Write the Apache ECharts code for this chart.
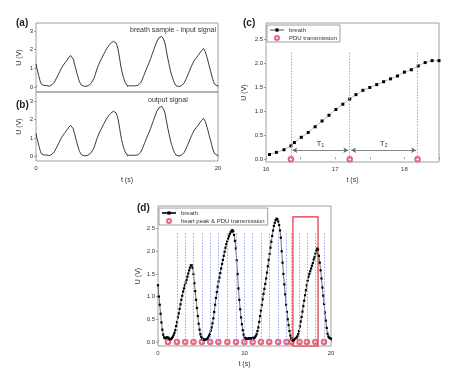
<!DOCTYPE html>
<html><head><meta charset="utf-8">
<script src="https://cdn.jsdelivr.net/npm/echarts@6/dist/echarts.min.js"></script>
<style>html,body{margin:0;padding:0;background:#fff}#c{width:474px;height:378px}</style>
</head><body><div id="c"></div>
<script>
// breath signal sampled every 0.1 s from 0 to 20 s (panels a, b, d)
const SAMPLE_DT = 0.1;
const breath = [
1.25,1.0,0.82,0.62,0.43,0.27,0.16,0.1,0.08,0.09,
0.1,0.1,0.09,0.07,0.06,0.06,0.08,0.11,0.15,0.2,
0.26,0.35,0.44,0.54,0.63,0.73,0.83,0.93,1.02,1.11,
1.18,1.25,1.31,1.37,1.44,1.51,1.58,1.64,1.69,1.69,
1.64,1.5,1.3,1.12,0.93,0.75,0.57,0.4,0.27,0.17,
0.11,0.08,0.06,0.05,0.05,0.05,0.06,0.07,0.1,0.14,
0.18,0.25,0.32,0.41,0.52,0.66,0.82,0.97,1.1,1.22,
1.33,1.42,1.52,1.62,1.72,1.81,1.9,1.99,2.08,2.16,
2.22,2.28,2.33,2.38,2.42,2.45,2.47,2.44,2.36,2.23,
2.06,1.8,1.5,1.18,0.93,0.72,0.54,0.39,0.26,0.16,
0.1,0.08,0.07,0.07,0.07,0.08,0.08,0.08,0.08,0.08,
0.08,0.09,0.1,0.13,0.17,0.24,0.32,0.44,0.57,0.69,
0.81,0.94,1.06,1.17,1.28,1.4,1.53,1.67,1.81,1.94,
2.08,2.21,2.34,2.46,2.56,2.63,2.69,2.72,2.71,2.66,
2.58,2.46,2.3,2.0,1.75,1.5,1.27,1.05,0.82,0.66,
0.5,0.37,0.24,0.14,0.08,0.04,0.03,0.04,0.06,0.08,
0.09,0.12,0.17,0.24,0.34,0.45,0.55,0.67,0.79,0.91,
1.03,1.14,1.25,1.35,1.44,1.5,1.56,1.62,1.68,1.74,
1.82,1.87,1.95,2.02,2.06,2.04,1.9,1.75,1.58,1.4,
1.2,1.02,0.84,0.65,0.47,0.31,0.18,0.12,0.09,0.08,
0.07];

// panel c: zoomed breath samples
const cTime = [16.05,16.15,16.26,16.36,16.41,16.51,16.61,16.71,16.81,16.91,17.01,17.11,17.21,17.30,17.40,17.50,17.60,17.70,17.80,17.90,18.00,18.10,18.20,18.30,18.40,18.50];
const cVolt = [0.10,0.145,0.20,0.28,0.35,0.46,0.56,0.68,0.80,0.92,1.04,1.15,1.26,1.35,1.44,1.50,1.56,1.62,1.68,1.74,1.82,1.87,1.95,2.02,2.06,2.06];
const cPdu = [16.36,17.21,18.19];
const cLineTop = 2.24;
const cArrowY = 0.19;
const cIntervals = ['T\u2081','T\u2082'];

// panel d: heart peaks / PDU transmissions
const dPdu = [1.15,2.19,3.15,4.10,5.07,6.03,6.98,8.02,9.02,9.98,10.94,11.90,12.86,13.89,14.86,15.44,16.36,17.21,18.19,19.19];
const dLineStart = 1; // first peak has no dotted line
const dLineTop = 2.41;
const dZoomBox = [15.6, 18.5, 2.76];

const yTicksAB = [0,1,2,3];
const yTicksCD = [0,0.5,1.0,1.5,2.0,2.5];

const FONT = 'Liberation Sans, Arial, sans-serif';
const TXT = '#333';
const FRAME = '#888';
const RED = '#e0405a';
const BLUE = '#9aa4f2';

const breathXY = breath.map((v,i)=>[+(i*SAMPLE_DT).toFixed(2), v]);
const cXY = cTime.map((t,i)=>[t, cVolt[i]]);

function yAxis(grid, min, max, ticks, name, gap, fmt){
  return {type:'value', gridIndex:grid, min, max,
    axisLine:{show:false}, splitLine:{show:false},
    axisTick:{show:true, customValues:ticks, length:2, lineStyle:{color:FRAME,width:0.8}},
    axisLabel:{customValues:ticks, fontSize:6, color:TXT, fontFamily:FONT, margin:3, formatter:fmt||(v=>v)},
    name, nameLocation:'middle', nameGap:gap, nameTextStyle:{fontSize:7, color:TXT, fontFamily:FONT}};
}
function xAxis(grid, min, max, interval, showLabel, fmt, name, gap){
  return {type:'value', gridIndex:grid, min, max, interval,
    axisLine:{show:false}, splitLine:{show:false},
    axisTick:{show:true, inside:true, length:2, lineStyle:{color:FRAME,width:0.8}},
    axisLabel:{show:showLabel, fontSize:6, color:TXT, fontFamily:FONT, margin:4, formatter:fmt},
    name, nameLocation:'middle', nameGap:gap, nameTextStyle:{fontSize:7, color:TXT, fontFamily:FONT}};
}
const gridStyle = {show:true, borderColor:FRAME, borderWidth:0.8, backgroundColor:'transparent'};

const vLines = (times, top, bottom) => times.map(t=>[{coord:[t,bottom]},{coord:[t,top]}]);
const tTitle = (text,left,top)=>({text,left,top,textStyle:{fontSize:10, fontWeight:'bold', color:'#222', fontFamily:FONT}});

const option = {
  animation:false,
  textStyle:{fontFamily:FONT},
  grid:[
    Object.assign({left:36, top:23, width:182, height:69}, gridStyle),
    Object.assign({left:36, top:92, width:182, height:69}, gridStyle),
    Object.assign({left:266, top:23, width:173, height:139}, gridStyle),
    Object.assign({left:158, top:206, width:173, height:140}, gridStyle)
  ],
  xAxis:[
    xAxis(0,0,20,10,false),
    xAxis(1,0,20,10,true,v=>v===10?'':v,'t (s)',16),
    xAxis(2,16,18.5,0.5,true,v=>Number.isInteger(v)?v:'','t (s)',15),
    xAxis(3,0,20,10,true,v=>v,'t (s)',15)
  ],
  yAxis:[
    yAxis(0,-0.25,3.42,yTicksAB,'U (V)',13),
    yAxis(1,-0.23,3.48,yTicksAB,'U (V)',13),
    yAxis(2,-0.056,2.846,yTicksCD,'U (V)',18,v=>v.toFixed(1)),
    yAxis(3,-0.09,3.0,yTicksCD,'U (V)',16,v=>v.toFixed(1))
  ],
  title:[
    tTitle('(a)',11,13), tTitle('(b)',11,95), tTitle('(c)',238,13), tTitle('(d)',132,198),
    {text:'breath sample - input signal', right:253, top:22, textStyle:{fontSize:7, fontWeight:'normal', color:TXT, fontFamily:FONT}},
    {text:'output signal', left:143, top:92, textStyle:{fontSize:7, fontWeight:'normal', color:TXT, fontFamily:FONT}}
  ],
  legend:[
    {data:['breath','PDU transmission'], orient:'vertical', left:267, top:25, itemWidth:14, itemHeight:4, itemGap:2,
     padding:[2,3,1,2], borderColor:FRAME, borderWidth:0.8, backgroundColor:'#fff',
     textStyle:{fontSize:6, color:TXT, fontFamily:FONT}},
    {data:['breath ','heart peak & PDU transmission'], orient:'vertical', left:159, top:208, itemWidth:14, itemHeight:4, itemGap:2,
     padding:[2,3,1,2], borderColor:FRAME, borderWidth:0.8, backgroundColor:'#fff',
     textStyle:{fontSize:6, color:TXT, fontFamily:FONT}}
  ],
  series:[
    {type:'line', xAxisIndex:0, yAxisIndex:0, data:breathXY, showSymbol:false, lineStyle:{color:'#222', width:0.9}},
    {type:'line', xAxisIndex:1, yAxisIndex:1, data:breathXY, showSymbol:false, lineStyle:{color:'#222', width:0.9}},
    // panel c
    {name:'PDU transmission', type:'scatter', xAxisIndex:2, yAxisIndex:2, data:cPdu.map(t=>[t,0]),
     symbol:'emptyCircle', symbolSize:4.5, itemStyle:{color:RED, borderWidth:1}, z:3,
     markLine:{silent:true, symbol:'none', lineStyle:{color:BLUE, type:[1.5,1.5], width:1, opacity:1}, label:{show:false},
       emphasis:{disabled:true}, data:vLines(cPdu, cLineTop, -0.056)}},
    {type:'line', xAxisIndex:2, yAxisIndex:2, data:[], 
     markLine:{silent:true, symbol:['arrow','arrow'], symbolSize:[4,5], lineStyle:{color:'#666', type:'solid', width:0.8},
       label:{show:true, position:'insideMiddleTop', distance:2, fontSize:8, color:TXT, fontFamily:FONT, formatter:p=>p.name},
       data:cIntervals.map((n,i)=>[{name:n, coord:[cPdu[i]+0.02,cArrowY]},{coord:[cPdu[i+1]-0.02,cArrowY]}])}},
    {name:'breath', type:'line', xAxisIndex:2, yAxisIndex:2, data:cXY, symbol:'rect', symbolSize:3, z:4,
     itemStyle:{color:'#000'}, lineStyle:{color:'#aaa', width:0.8}},
    // panel d
    {name:'heart peak & PDU transmission', type:'scatter', xAxisIndex:3, yAxisIndex:3, data:dPdu.map(t=>[t,0]),
     symbol:'emptyCircle', symbolSize:4.5, itemStyle:{color:RED, borderWidth:1}, z:3,
     markLine:{silent:true, symbol:'none', lineStyle:{color:BLUE, type:[1.5,1.5], width:1, opacity:1}, label:{show:false},
       emphasis:{disabled:true}, data:vLines(dPdu.slice(dLineStart), dLineTop, -0.09)},
     markArea:{silent:true, itemStyle:{color:'rgba(0,0,0,0)', borderColor:'#e03040', borderWidth:1.2},
       data:[[{coord:[dZoomBox[0],-0.09]},{coord:[dZoomBox[1],dZoomBox[2]]}]]}},
    {name:'breath ', type:'line', xAxisIndex:3, yAxisIndex:3, data:breathXY, symbol:'rect', symbolSize:2.2, z:4,
     itemStyle:{color:'#000'}, lineStyle:{color:'#333', width:0.7}}
  ]
};
const chart = echarts.init(document.getElementById('c'), null, {renderer:'canvas'});
chart.setOption(option);
</script></body></html>
